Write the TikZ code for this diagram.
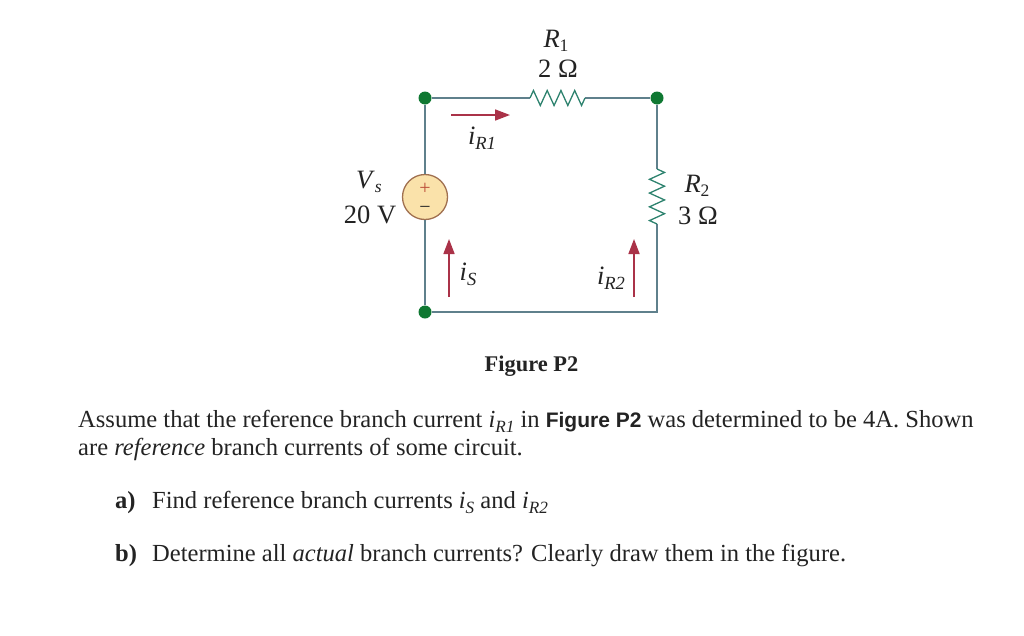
\documentclass[tikz,border=0pt]{standalone}
\usepackage{fontspec}
\setmainfont{Liberation Serif}
\newfontfamily\boldsans{Liberation Sans}[BoldFont={Liberation Sans Bold}]
\usetikzlibrary{arrows.meta,decorations.pathmorphing}
\definecolor{wirecol}{RGB}{95,128,140}
\definecolor{dotcol}{RGB}{15,120,50}
\definecolor{rescol}{RGB}{45,130,110}
\definecolor{arrowcol}{RGB}{170,50,72}
\definecolor{srccol}{RGB}{250,226,170}
\definecolor{srcedge}{RGB}{160,112,80}
\definecolor{inkcol}{RGB}{35,35,35}
\newcommand{\cur}[2]{\textit{#1}\raisebox{-.22em}{\fontsize{.7em}{1em}\selectfont\textit{#2}}}
\newcommand{\low}[1]{\raisebox{-.16em}{\fontsize{.66em}{1em}\selectfont #1}}
\tikzset{
	wire/.style={draw=wirecol, line width=1.5pt},
	junction/.style={circle, fill=dotcol, inner sep=0pt, minimum size=13pt},
	resistor/.style={draw=rescol, line width=1.3pt, decorate, decoration={zigzag, amplitude=7.5pt, segment length=13.75pt}},
	currentarrow/.style={draw=arrowcol, line width=1.7pt, -{Triangle[length=15pt,width=11pt]}},
	body/.style={inner sep=0pt, anchor=base west, text=inkcol, font=\fontsize{24.55pt}{28pt}\selectfont},
	lbl/.style={inner sep=0pt, anchor=base, text=inkcol, font=\fontsize{26.5pt}{28pt}\selectfont},
	polarity/.style={inner sep=0pt, font=\fontsize{20pt}{22pt}\selectfont}
}
\begin{document}
\begin{tikzpicture}[x=1pt,y=-1pt]
	%%%%% START %%%%%
	\useasboundingbox (0, 0) rectangle (1024, 635);
	
	\node[junction] (tl) at (425, 98) {};
	\node[junction] (tr) at (657, 98) {};
	\node[junction] (bl) at (425, 312) {};
	\coordinate (br) at (657, 312);
	\coordinate (r1a) at (530, 98);
	\coordinate (r1b) at (585, 98);
	\coordinate (r2a) at (657, 169);
	\coordinate (r2b) at (657, 224);
	\node[circle, draw=srcedge, fill=srccol, line width=1.3pt, minimum size=45pt, inner sep=0pt] (vs) at (425, 197) {};
	
	\draw[wire] (tl) -- (r1a);
	\draw[wire] (r1b) -- (tr);
	\draw[wire] (tr) -- (r2a);
	\draw[wire] (r2b) -- (br) -- (bl);
	\draw[wire] (bl) -- (vs);
	\draw[wire] (vs) -- (tl);
	\draw[resistor] (r1a) -- (r1b);
	\draw[resistor] (r2a) -- (r2b);
	
	\draw[currentarrow] (451, 115) -- (510, 115);
	\draw[currentarrow] (449, 297) -- (449, 239);
	\draw[currentarrow] (634, 297) -- (634, 239);
	
	\node[polarity, text=srcedge!70!red] (plus) at (425, 189) {+};
	\node[polarity, text=inkcol] (minus) at (425, 210) {−};
	
	\node[lbl] (rone) at (556, 47) {\textit{R}\low{1}};
	\node[lbl] (rtwo) at (558, 77) {2 Ω};
	\node[lbl] (rthree) at (697, 192) {\textit{R}\low{2}};
	\node[lbl] (rfour) at (698, 224) {3 Ω};
	\node[lbl] (vsa) at (369, 188) {\textit{V}\low{\textit{s}}};
	\node[lbl] (vsb) at (370, 223) {20 V};
	\node[lbl] (irone) at (482, 144) {\cur{i}{R1}};
	\node[lbl] (is) at (468, 280) {\cur{i}{S}};
	\node[lbl] (irtwo) at (611, 284) {\cur{i}{R2}};
	
	\node[inner sep=0pt, anchor=base, text=inkcol, font=\fontsize{22.4pt}{24pt}\selectfont\bfseries] (fig) at (531.5, 371) {Figure P2};
	\node[body] (la) at (78, 427) {Assume that the reference branch current \cur{i}{R1} in {\boldsans\bfseries\fontsize{21pt}{24pt}\selectfont Figure P2} was determined to be 4A. Shown};
	\node[body] (lb) at (78, 455) {are \textit{reference} branch currents of some circuit.};
	\node[body] (qa) at (115, 508) {\textbf{a)}};
	\node[body] (qat) at (152, 508) {Find reference branch currents \cur{i}{S} and \cur{i}{R2}};
	\node[body] (qb) at (115, 561) {\textbf{b)}};
	\node[body] (qbt) at (152, 561) {Determine all \textit{actual} branch currents? Clearly draw them in the figure.};
	
	%%%%% END %%%%%
\end{tikzpicture}
\end{document}
